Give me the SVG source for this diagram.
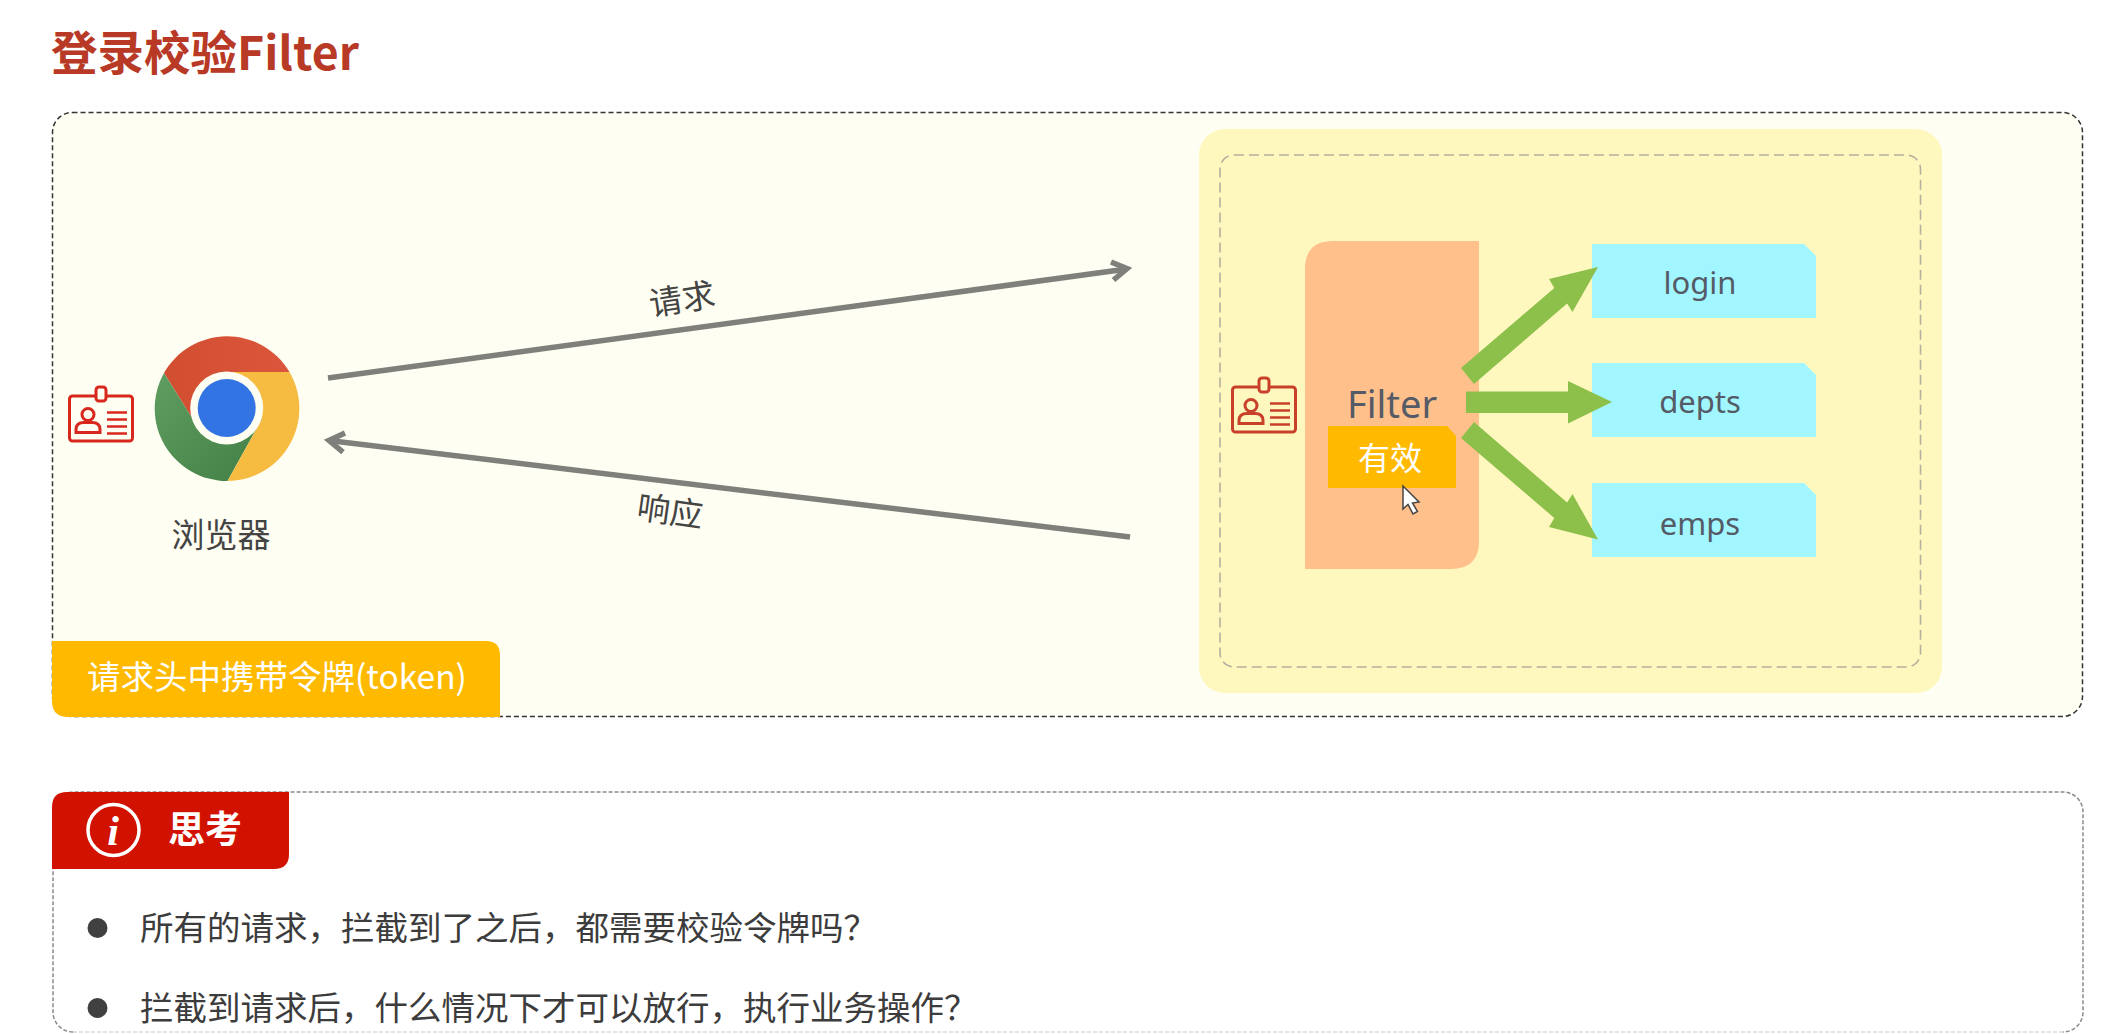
<svg xmlns="http://www.w3.org/2000/svg" width="2124" height="1034" viewBox="0 0 2124 1034">
<style>
text{font-family:"Noto Sans","Noto Sans CJK SC",sans-serif}
.cjk{font-family:"Noto Sans CJK SC","Noto Sans",sans-serif}
.lbl{font-size:33px;fill:#444;text-anchor:middle}
.api{fill:#A1F6FF}
.apit{font-size:31px;fill:#555B66;text-anchor:middle}
.flow{fill:none;stroke:#7F7F7C;stroke-width:5.500;stroke-linecap:butt;stroke-linejoin:miter}
.green{fill:#8DBF4B}
.q{font-size:33.500px;fill:#3C3C3C}
</style>
<defs>
<linearGradient id="gg" x1="0" y1="0" x2="1" y2="1"><stop offset="0" stop-color="#5F9D60"/><stop offset="1" stop-color="#417F45"/></linearGradient>
<linearGradient id="gr" x1="0" y1="0" x2="1" y2="0"><stop offset="0" stop-color="#D24E30"/><stop offset="1" stop-color="#DB563C"/></linearGradient>
<symbol id="card" viewBox="0 0 66 57" width="66" height="57" overflow="visible">
<rect x="1.500" y="10.500" width="63" height="45" rx="3" fill="none" stroke="currentColor" stroke-width="3"/>
<rect x="28" y="1.500" width="10" height="14" rx="3" stroke="currentColor" stroke-width="3"/>
<circle cx="20" cy="29" r="6" fill="none" stroke="currentColor" stroke-width="3"/>
<path d="M8 47v-3q0-7 8-7h8q8 0 8 7v3z" fill="none" stroke="currentColor" stroke-width="3"/>
<path d="M39 27h20M39 34h20M39 41h20M39 48h20" fill="none" stroke="currentColor" stroke-width="2.600"/>
</symbol>
</defs>
<rect width="2124" height="1034" fill="#fff"/>
<text id="title" class="cjk" x="51" y="70" font-size="46.500" font-weight="700" fill="#B83A26">登录校验Filter</text>

<g id="main-panel">
<rect x="52.500" y="112.500" width="2030" height="604" rx="20" fill="#FFFEF2" stroke="#333" stroke-width="1.500" stroke-dasharray="5 3"/>
</g>
<g id="token-tag">
<path d="M52 641H486Q500 641 500 655V717H68Q52 717 52 701Z" fill="#FFBA00"/>
<text class="cjk" x="87" y="689" font-size="33.500" fill="#fff">请求头中携带令牌(token)</text>
</g>
<g id="browser">
<use href="#card" x="68" y="385.500" color="#D8271C" fill="#FFFEF2"/>
<path d="M164 373A72.500 72.500 0 0 1 289.500 372H227L192 418Z" fill="url(#gr)"/>
<path d="M164 373A72.500 72.500 0 0 0 227.500 481L262 419L192 418Z" fill="url(#gg)"/>
<path d="M289.500 372A72.500 72.500 0 0 1 227.500 481L262 419L227 372Z" fill="#F6BC42"/>
<circle cx="226.700" cy="408" r="36.500" fill="#FFFEF2"/>
<circle cx="226.700" cy="408" r="29" fill="#3274E3"/>
<text class="cjk lbl" x="221" y="547">浏览器</text>
</g>
<g id="server-panel">
<rect x="1199" y="129" width="743" height="564" rx="26" fill="#FFF8BE"/>
<rect x="1220" y="155" width="700.500" height="512" rx="14" fill="none" stroke="#B4B09E" stroke-width="1.600" stroke-dasharray="10 5"/>
</g>
<g id="filter">
<use href="#card" x="1231" y="376.500" color="#C8402A" fill="#FFF8BE"/>
<path d="M1333 241H1479V541Q1479 569 1451 569H1305V269Q1305 241 1333 241Z" fill="#FFC08B"/>
<text x="1392" y="418" font-size="38" fill="#555B66" text-anchor="middle">Filter</text>
</g>
<g id="valid">
<path d="M1328 426H1447L1456 436V488H1328Z" fill="#FFBA00"/>
<text class="cjk" x="1390" y="470" font-size="32" fill="#fff" text-anchor="middle">有效</text>
<path d="M1403 486V509L1408 504.500L1413 514L1417.500 511.500L1412.500 503L1419 502Z" fill="#fff" stroke="#444" stroke-width="1.500"/>
</g>
<g id="login">
<path class="api" d="M1592 244H1804L1816 256V318H1592Z"/>
<text class="apit" x="1700" y="294">login</text>
</g>
<g id="depts">
<path class="api" d="M1592 363H1804L1816 375V437H1592Z"/>
<text class="apit" x="1700" y="413">depts</text>
</g>
<g id="emps">
<path class="api" d="M1592 483H1804L1816 495V557H1592Z"/>
<text class="apit" x="1700" y="535">emps</text>
</g>
<g id="connectors">
<path class="flow" d="M328 378L1127 269"/>
<path class="flow" d="M1111 262L1127 268.500L1113.500 280"/>
<path class="flow" d="M1130 537L329 440.500"/>
<path class="flow" d="M345 433L329 440.500L343 452"/>
<text class="cjk lbl" x="682" y="311" transform="rotate(-9 682 299)">请求</text>
<text class="cjk lbl" x="670" y="523" transform="rotate(8 670 512)">响应</text>
<path class="green" d="M1461 368L1554.300 288L1549 279L1598 267L1572.500 312L1567.100 303.400L1474 384Z"/>
<path class="green" d="M1466 391.500H1568V381L1612 402L1568 423.500V413H1466Z"/>
<path class="green" d="M1474 422L1567.100 502.600L1572.500 494L1598 539.500L1549 527L1554.300 518L1461 438Z"/>
</g>
<g id="think-panel">
<path d="M73 1032H2063" fill="none" stroke="#DADADA" stroke-width="1.500" stroke-dasharray="4 2"/>
<path d="M73 1032A20 20 0 0 1 53 1012V812A20 20 0 0 1 73 792H2063A20 20 0 0 1 2083 812V1012A20 20 0 0 1 2063 1032" fill="none" stroke="#8A8A8A" stroke-width="1.500" stroke-dasharray="4 2"/>
</g>
<g id="think-tab">
<path d="M67 792H289V854Q289 869 274 869H52V807Q52 792 67 792Z" fill="#D21200"/>
<circle cx="113.500" cy="830" r="25.500" fill="none" stroke="#fff" stroke-width="3.500"/>
<text x="113" y="845" font-size="42" font-weight="700" font-style="italic" fill="#fff" text-anchor="middle" style="font-family:'Liberation Serif',serif">i</text>
<text class="cjk" x="168" y="843" font-size="37" font-weight="700" fill="#fff">思考</text>
</g>
<g id="questions">
<circle cx="97.500" cy="928" r="10" fill="#404040"/>
<text class="cjk q" x="140" y="940">所有的请求，拦截到了之后，都需要校验令牌吗？</text>
<circle cx="97.500" cy="1008" r="10" fill="#404040"/>
<text class="cjk q" x="140" y="1020">拦截到请求后，什么情况下才可以放行，执行业务操作？</text>
</g>
</svg>
